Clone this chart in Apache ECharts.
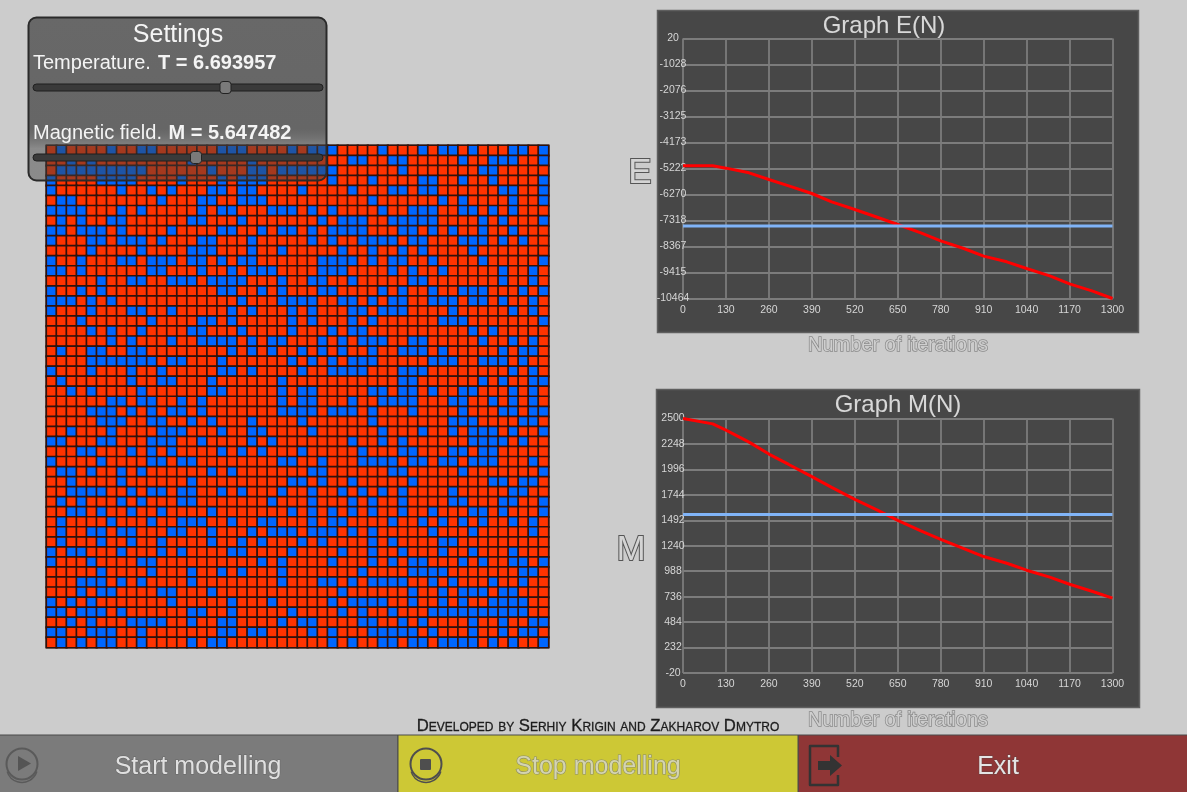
<!DOCTYPE html>
<html>
<head>
<meta charset="utf-8">
<title>Ising model</title>
<script src="https://cdn.jsdelivr.net/npm/echarts@6/dist/echarts.min.js"></script>
<style>
html, body { margin: 0; padding: 0; background: #cccccc; }
#chart { width: 1187px; height: 792px; }
</style>
</head>
<body>
<div id="chart"></div>
<script>
// spin lattice: for each row, the columns whose spin is down (blue)
var blueCols = [
  [1,6,9,10,17,18,19,24,26,27,28,33,37,39,40,42,46,47,49],
  [2,4,14,20,30,31,34,35,41,44,45,46,49],
  [1,2,3,4,5,6,7,8,9,16,20,21,23,24,25,26,27,28,35,43,44],
  [0,5,6,7,8,13,17,19,20,21,28,32,37,38,41,44,49],
  [0,7,10,12,16,17,19,20,25,30,34,35,37,38,45,46,49],
  [1,2,11,15,16,19,20,21,32,39,41,46,49],
  [0,1,2,3,7,9,15,17,18,22,23,24,26,28,33,36,37,38,41,42,44,46],
  [1,3,6,7,14,15,19,27,29,30,31,34,35,36,37,38,43,45,49],
  [0,1,3,4,5,7,12,17,18,21,23,24,26,28,29,30,31,35,36,38,40,43,46],
  [0,4,5,7,8,9,11,15,16,20,26,28,31,32,33,34,36,37,41,42,43,45,47],
  [4,9,14,15,16,20,23,29,32,35,37,42],
  [0,3,7,8,10,11,12,14,15,17,19,20,27,28,29,30,32,34,35,38,43,49],
  [0,1,3,10,11,15,18,20,21,22,27,28,29,34,36,39,45,48],
  [5,8,9,12,13,14,16,17,18,19,23,26,27,30,36,37,45,48],
  [0,3,5,17,18,21,23,27,28,33,35,38,41,42,43,47,49],
  [0,1,2,4,6,19,23,24,25,26,29,30,32,34,35,38,39,40,42,43,45,48],
  [0,4,8,9,12,18,20,24,26,30,31,33,34,35,40,46,48],
  [3,10,15,16,18,24,26,30,32,39,40,41,49],
  [4,6,9,14,15,19,24,28,30,31,42,44],
  [6,8,12,15,16,17,18,20,22,23,27,29,31,32,33,36,37,43,46,48],
  [1,4,5,8,9,18,20,22,25,27,29,32,35,36,37,39,45,47,48],
  [4,5,6,7,8,9,10,12,13,17,24,26,28,30,31,32,38,39,40,43,44,45,47],
  [0,4,8,11,17,18,20,25,28,29,30,31,35,36,37,46,48],
  [1,8,11,12,16,23,35,36,43,45,48,49],
  [2,4,9,16,17,23,25,26,32,33,35,36,38,41,42,46,48],
  [6,7,9,10,13,15,23,25,26,30,33,34,35,36,40,41,44,46,48],
  [4,5,6,8,10,12,13,15,23,24,25,26,28,29,30,32,36,41,45,46,48,49],
  [5,6,7,10,11,14,16,20,25,32,40,41,42,47,48],
  [2,6,11,12,13,17,20,21,26,33,37,40,42,43,44,46,49],
  [0,1,5,6,10,11,12,15,20,22,30,33,35,42,43,44,45,47],
  [3,4,8,10,12,17,19,21,25,31,35,36,40,41,43,44],
  [0,5,10,11,13,14,23,24,27,31,32,33,34,36,37,39,40,42,43,44,48],
  [1,2,4,7,9,16,18,26,27,34,35,41,49],
  [2,7,14,24,25,27,30,36,44,45,47,48],
  [2,3,4,5,8,10,11,13,14,17,19,23,26,29,31,33,35,40,46,47],
  [1,3,7,9,13,14,22,26,30,32,35,40,41,45,46,49],
  [2,3,5,8,11,16,24,26,28,30,32,35,38,42,43,45,49],
  [1,6,10,13,14,15,18,21,22,26,28,29,34,37,39,41,43,46,48],
  [1,4,5,7,8,12,13,16,20,22,23,24,26,27,28,30,32,38,42,48],
  [1,5,8,11,16,19,21,25,27,32,34,39,40],
  [0,2,3,7,11,13,18,19,24,29,32,35,39,42,46],
  [0,4,9,10,21,23,28,32,34,36,37,41,43,46,47,49],
  [5,10,14,17,19,23,31,36,37,38,39,47,48],
  [3,4,5,7,9,14,23,27,28,30,32,33,34,35,38,40,44,47],
  [3,5,6,11,12,16,29,36,39,41,42,43,45,46],
  [0,2,4,12,18,22,28,30,31,32,33,36,39,41,44,45,46,47],
  [0,1,3,4,5,7,14,15,18,24,29,31,34,38,39,40,41,42,43,44,45,46,47],
  [2,4,8,9,10,11,14,17,18,23,25,26,31,32,35,37,42,45,48,49],
  [0,1,4,5,6,9,17,18,20,21,26,28,32,33,34,35,36,38,42,45,47,48],
  [1,3,5,6,9,14,16,17,28,30,33,34,36,37,39,40,41,42,44,46,49]
];

var iterations = [0,90,130,200,260,320,390,450,520,590,650,720,780,850,910,980,1040,1110,1170,1240,1300];
var energy = [-5114,-5114,-5208,-5396,-5665,-5920,-6230,-6566,-6875,-7197,-7480,-7815,-8138,-8447,-8756,-8985,-9254,-9550,-9872,-10167,-10464];
var magnet = [2500,2447,2385,2266,2148,2045,1924,1818,1700,1591,1492,1387,1304,1212,1133,1067,998,929,859,787,721];
var energyMean = -7536;
var magnetMean = 1550;
var energyTicks = [20,-1028,-2076,-3125,-4173,-5222,-6270,-7318,-8367,-9415,-10464];
var magnetTicks = [2500,2248,1996,1744,1492,1240,988,736,484,232,-20];

var FONT = '"Liberation Sans", Arial, sans-serif';

// build heatmap cells from the lists
var cols = [], rows = [], cells = [];
for (var i = 0; i < 50; i++) { cols.push(i); rows.push(i); }
blueCols.forEach(function (list, r) {
  cols.forEach(function (c) {
    cells.push([c, r, list.indexOf(c) >= 0 ? 1 : 0]);
  });
});

function pairs(xs, ys) {
  return xs.map(function (x, i) { return [x, ys[i]]; });
}

function plainNumber(v) {
  return String(v);
}

function graphXAxis(gridIndex) {
  return {
    type: 'value', gridIndex: gridIndex, min: 0, max: 1300, interval: 130,
    axisLine: { show: false }, axisTick: { show: false },
    axisLabel: { color: '#d6d6d6', fontSize: 10.5, fontFamily: FONT, margin: 6, formatter: plainNumber },
    splitLine: { show: true, lineStyle: { color: '#7c7c7c', width: 1.8 } }
  };
}

function graphYAxis(gridIndex, ticks) {
  return {
    type: 'value', gridIndex: gridIndex, min: ticks[ticks.length - 1], max: ticks[0],
    axisLine: { show: false },
    axisTick: { show: false, customValues: ticks },
    axisLabel: { customValues: ticks, color: '#d6d6d6', fontSize: 10.5, fontFamily: FONT, align: 'center', margin: 10, formatter: plainNumber },
    splitLine: { show: true, lineStyle: { color: '#7c7c7c', width: 1.8 } }
  };
}

function outlined(text, x, y, size, fill, stroke, width) {
  return {
    type: 'text', x: x, y: y, z: 5,
    style: {
      text: text, fill: fill, stroke: stroke, lineWidth: width, strokeFirst: true,
      font: size + 'px ' + FONT, align: 'center', verticalAlign: 'middle'
    }
  };
}

function plain(text, x, y, size, bold, align) {
  return {
    type: 'text', x: x, y: y, z: 101,
    style: {
      text: text, fill: '#f4f4f4',
      font: (bold ? 'bold ' : '') + size + 'px ' + FONT, align: align, verticalAlign: 'middle'
    }
  };
}

function slider(top, handleX) {
  return [
    { type: 'rect', z: 101, shape: { x: 33, y: top, width: 290, height: 7, r: 3.5 },
      style: { fill: '#3a3a3a', stroke: '#1f1f1f', lineWidth: 1 } },
    { type: 'rect', z: 102, shape: { x: handleX, y: top - 2.5, width: 11, height: 12, r: 3 },
      style: { fill: '#7a7a7a', stroke: '#222222', lineWidth: 1 } }
  ];
}

function panel(x, y, w, h) {
  return { type: 'rect', z: -10, shape: { x: x, y: y, width: w, height: h },
    style: { fill: '#474747', stroke: '#5f5f5f', lineWidth: 1.5 } };
}

function button(x, w, color) {
  return { type: 'rect', z: 1, shape: { x: x, y: 735, width: w, height: 60 },
    style: { fill: color, stroke: '#4a4a4a', lineWidth: 1 } };
}

var graphics = [
  panel(657.5, 10.5, 481, 322),
  panel(656.5, 389.5, 483, 318),
  outlined('Graph E(N)', 884, 26.5, 24, '#d8d8d8', '#5a5a5a', 0.4),
  outlined('Graph M(N)', 898, 405.5, 24, '#d8d8d8', '#5a5a5a', 0.4),
  outlined('E', 640, 173, 35, '#d4d4d4', '#555555', 2),
  outlined('M', 631, 550, 35, '#d4d4d4', '#555555', 2),
  outlined('Number of iterations', 898, 345, 20, '#cfcfcf', '#8a8a8a', 1.5),
  outlined('Number of iterations', 898, 720, 20, '#cfcfcf', '#8a8a8a', 1.5),
  // lattice frame
  { type: 'rect', z: -5, shape: { x: 46, y: 145, width: 503, height: 503 },
    style: { fill: '#32120c', stroke: '#555555', lineWidth: 1 } },
  // settings window
  { type: 'rect', z: 100, shape: { x: 28.5, y: 17.5, width: 298, height: 163, r: 8 },
    style: {
      stroke: '#2a2a2a', lineWidth: 2,
      fill: new echarts.graphic.LinearGradient(0, 0, 0, 1, [
        { offset: 0, color: 'rgba(104,104,104,1)' },
        { offset: 0.68, color: 'rgba(102,102,102,1)' },
        { offset: 0.8, color: 'rgba(64,64,64,0.47)' },
        { offset: 1, color: 'rgba(64,64,64,0.47)' }
      ])
    } },
  plain('Settings', 178, 35, 25, false, 'center'),
  plain('Temperature.', 33, 63.5, 20, false, 'left'),
  plain('T = 6.693957', 158, 63.5, 20, true, 'left'),
  plain('Magnetic field.', 33, 133.5, 20, false, 'left'),
  plain('M = 5.647482', 168.5, 133.5, 20, true, 'left'),
  // bottom buttons
  button(-2, 400, '#7b7b7b'),
  button(798, 392, '#8f3636'),
  button(398, 400, '#cdc835'),
  outlined('Start modelling', 198, 767.5, 25, '#e0e0e0', '#666666', 1),
  outlined('Stop modelling', 598, 767.5, 25, '#d4d4b0', '#8c8c6a', 1.2),
  outlined('Exit', 998, 767.5, 25, '#e4e4e4', '#6a4040', 1),
  {
    type: 'text', x: 598, y: 726, z: 5,
    style: {
      text: 'Developed by Serhiy Krigin and Zakharov Dmytro', fill: '#1c1c1c', stroke: '#1c1c1c', lineWidth: 0.3,
      font: 'small-caps 16.7px ' + FONT, align: 'center', verticalAlign: 'middle'
    }
  },
  // play icon
  { type: 'ellipse', z: 5, shape: { cx: 22, cy: 764, rx: 15.5, ry: 15.5 }, style: { fill: 'none', stroke: '#5a5a5a', lineWidth: 2 } },
  { type: 'arc', z: 5, shape: { cx: 22, cy: 767, r: 15.5, startAngle: 0.3, endAngle: 2.84 }, style: { fill: 'none', stroke: '#5a5a5a', lineWidth: 1.5 } },
  { type: 'polygon', z: 5, shape: { points: [[18, 756], [18, 771], [31, 763.5]] }, style: { fill: '#555555' } },
  // stop icon
  { type: 'ellipse', z: 5, shape: { cx: 426, cy: 764, rx: 15.5, ry: 15.5 }, style: { fill: 'none', stroke: '#4e4e4e', lineWidth: 2 } },
  { type: 'arc', z: 5, shape: { cx: 426, cy: 767, r: 15.5, startAngle: 0.3, endAngle: 2.84 }, style: { fill: 'none', stroke: '#4e4e4e', lineWidth: 1.5 } },
  { type: 'rect', z: 5, shape: { x: 420, y: 759, width: 11, height: 11, r: 1 }, style: { fill: '#4e4e4e' } },
  // exit icon
  { type: 'polyline', z: 5, shape: { points: [[838, 757], [838, 746], [810, 746], [810, 785], [838, 785], [838, 775]] },
    style: { fill: 'none', stroke: '#333333', lineWidth: 2.5, lineJoin: 'round' } },
  { type: 'polygon', z: 5, shape: { points: [[818, 761], [830, 761], [830, 755], [842, 765.5], [830, 776], [830, 770], [818, 770]] },
    style: { fill: '#333333' } }
].concat(slider(84, 220), slider(154, 190.5));

var chart = echarts.init(document.getElementById('chart'));
chart.setOption({
  backgroundColor: '#cccccc',
  animation: false,
  graphic: { elements: graphics },
  grid: [
    { left: 46.5, top: 145.5, width: 502, height: 502 },
    { left: 683, top: 38.5, width: 429.5, height: 260 },
    { left: 683, top: 418.5, width: 429.5, height: 254.5 }
  ],
  xAxis: [
    { type: 'category', gridIndex: 0, data: cols, show: false },
    graphXAxis(1),
    graphXAxis(2)
  ],
  yAxis: [
    { type: 'category', gridIndex: 0, data: rows, inverse: true, show: false },
    graphYAxis(1, energyTicks),
    graphYAxis(2, magnetTicks)
  ],
  visualMap: {
    show: false, type: 'piecewise', seriesIndex: 0, dimension: 2,
    pieces: [{ value: 0, color: '#ff3300' }, { value: 1, color: '#0066ff' }]
  },
  series: [
    {
      type: 'heatmap', xAxisIndex: 0, yAxisIndex: 0, data: cells,
      itemStyle: { borderColor: '#32120c', borderWidth: 1.7 },
      emphasis: { disabled: true }
    },
    {
      type: 'line', xAxisIndex: 1, yAxisIndex: 1, data: pairs(iterations, energy),
      showSymbol: false, lineStyle: { color: '#ff0000', width: 3 }
    },
    {
      type: 'line', xAxisIndex: 1, yAxisIndex: 1, data: pairs([0, 1300], [energyMean, energyMean]),
      showSymbol: false, lineStyle: { color: '#80b4f8', width: 3 }
    },
    {
      type: 'line', xAxisIndex: 2, yAxisIndex: 2, data: pairs(iterations, magnet),
      showSymbol: false, lineStyle: { color: '#ff0000', width: 3 }
    },
    {
      type: 'line', xAxisIndex: 2, yAxisIndex: 2, data: pairs([0, 1300], [magnetMean, magnetMean]),
      showSymbol: false, lineStyle: { color: '#80b4f8', width: 3 }
    }
  ]
});
</script>
</body>
</html>
